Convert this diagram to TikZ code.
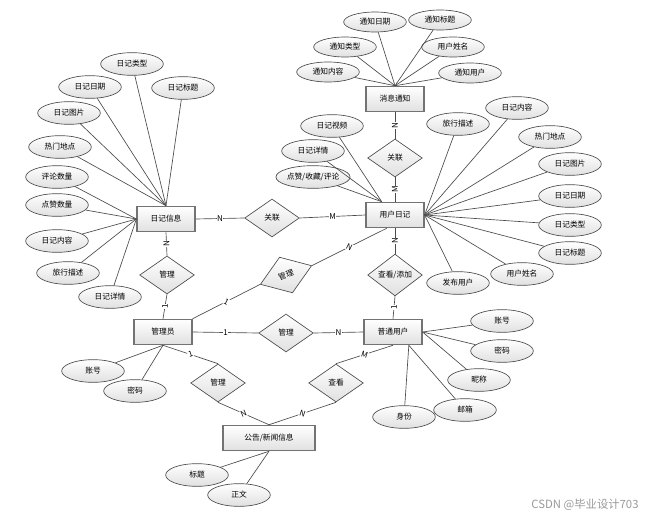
\documentclass[tikz,border=0pt]{standalone}
\usepackage{fontspec}
\newfontfamily\cjk{Noto Sans CJK SC}
\usetikzlibrary{shapes.geometric}

\tikzset{
  entity/.style={draw=black!55, line width=0.9pt, top color=white, bottom color=black!12, minimum width=43.5pt, minimum height=19pt, inner sep=1pt, font=\cjk\fontsize{5.8}{7}\selectfont},
  attr/.style={ellipse, draw=black!70, line width=0.5pt, top color=white, bottom color=black!12, minimum width=47pt, minimum height=17pt, inner sep=0pt, font=\cjk\fontsize{5.8}{7}\selectfont},
  rel/.style={diamond, draw=black!70, line width=0.5pt, top color=white, bottom color=black!12, minimum width=41pt, minimum height=28.5pt, inner sep=0pt, font=\cjk\fontsize{5.8}{7}\selectfont},
  conn/.style={draw=black!70, line width=0.5pt},
  card/.style={fill=white, inner sep=0.4pt, font=\cjk\fontsize{6}{6}\selectfont, text=black},
}

\begin{document}
\begin{tikzpicture}[x=0.75pt,y=0.75pt,yscale=-1,xscale=1]
\useasboundingbox (0,0) rectangle (648,517);

%Shape: Rectangle
\node [entity] (xxtz) at (395,99) {消息通知};
\node [entity] (yhrj) at (395,215) {用户日记};
\node [entity] (rjxx) at (166,219) {日记信息};
\node [entity] (gly) at (163,332) {管理员};
\node [entity] (ptyh) at (393,332) {普通用户};
\node [entity, minimum width=69pt] (gg) at (269,438) {公告/新闻信息};

%Shape: Diamond
\node [rel] (glA) at (395,158) {关联};
\node [rel] (glB) at (272,218) {关联};
\node [rel] (glC) at (167,275) {管理};
\node [rel, rotate=20] (glD) at (286,275) {管理};
\node [rel] (glE) at (286,333) {管理};
\node [rel] (ckadd) at (395,275) {查看/添加};
\node [rel] (glF) at (218,383) {管理};
\node [rel] (ck) at (336,383) {查看};

%Shape: Ellipse (消息通知)
\node [attr, minimum height=15pt] (tzrq) at (375,22) {通知日期};
\node [attr, minimum height=15pt] (tzbt) at (440,20) {通知标题};
\node [attr, minimum height=15pt] (tzlx) at (345,47) {通知类型};
\node [attr, minimum height=15pt] (tzxm) at (453,47) {用户姓名};
\node [attr, minimum height=15pt] (tznr) at (328,72) {通知内容};
\node [attr, minimum height=15pt] (tzyh) at (470,73) {通知用户};

%Shape: Ellipse (用户日记)
\node [attr] (ysp) at (332,126) {日记视频};
\node [attr] (yxq) at (313,151) {日记详情};
\node [attr] (ydz) at (313,177) {点赞/收藏/评论};
\node [attr] (yms) at (458,124) {旅行描述};
\node [attr] (ynr) at (517,108) {日记内容};
\node [attr] (ydd) at (550,137) {热门地点};
\node [attr] (ytp) at (570,164) {日记图片};
\node [attr] (yrq) at (570,196) {日记日期};
\node [attr] (ylx) at (570,225) {日记类型};
\node [attr] (ybt) at (570,253) {日记标题};
\node [attr] (yxm) at (522,274) {用户姓名};
\node [attr] (yfb) at (458,283) {发布用户};

%Shape: Ellipse (日记信息)
\node [attr] (rlx) at (132,64) {日记类型};
\node [attr] (rrq) at (90,87) {日记日期};
\node [attr] (rbt) at (183,88) {日记标题};
\node [attr] (rtp) at (69,113) {日记图片};
\node [attr] (rdd) at (60,147) {热门地点};
\node [attr] (rpl) at (57,177) {评论数量};
\node [attr] (rdz) at (57,205) {点赞数量};
\node [attr] (rnr) at (57,241) {日记内容};
\node [attr] (rms) at (68,273) {旅行描述};
\node [attr] (rxq) at (110,297) {日记详情};

%Shape: Ellipse (管理员, 普通用户, 公告)
\node [attr] (gzh) at (93,371) {账号};
\node [attr] (gmm) at (135,391) {密码};
\node [attr] (pzh) at (502,321) {账号};
\node [attr] (pmm) at (502,351) {密码};
\node [attr] (pnc) at (479,380) {昵称};
\node [attr] (pyx) at (465,410) {邮箱};
\node [attr] (psf) at (404,417) {身份};
\node [attr] (gbt) at (197,475) {标题};
\node [attr] (gzw) at (239,495) {正文};

%Straight Lines (attributes)
\draw [conn] (tzrq) -- (xxtz.north);
\draw [conn] (tzbt) -- (xxtz.north);
\draw [conn] (tzlx) -- (xxtz.north);
\draw [conn] (tzxm) -- (xxtz.north);
\draw [conn] (tznr) -- (xxtz.north);
\draw [conn] (tzyh) -- (xxtz.north);

\draw [conn] (ysp) -- (yhrj.135);
\draw [conn] (yxq) -- (yhrj.135);
\draw [conn] (ydz) -- (yhrj.135);
\draw [conn] (yms) -- (yhrj.east);
\draw [conn] (ynr) -- (yhrj.east);
\draw [conn] (ydd) -- (yhrj.east);
\draw [conn] (ytp) -- (yhrj.east);
\draw [conn] (yrq) -- (yhrj.east);
\draw [conn] (ylx) -- (yhrj.east);
\draw [conn] (ybt) -- (yhrj.east);
\draw [conn] (yxm) -- (yhrj.east);
\draw [conn] (yfb) -- (yhrj.east);

\draw [conn] (rlx) -- (rjxx.north);
\draw [conn] (rrq) -- (rjxx.north);
\draw [conn] (rbt) -- (rjxx.north);
\draw [conn] (rtp) -- (rjxx.north);
\draw [conn] (rdd) -- (rjxx.north);
\draw [conn] (rpl) -- (rjxx.west);
\draw [conn] (rdz) -- (rjxx.west);
\draw [conn] (rnr) -- (rjxx.west);
\draw [conn] (rms) -- (rjxx.west);
\draw [conn] (rxq) -- (rjxx.west);

\draw [conn] (gzh) -- (gly.south);
\draw [conn] (gmm) -- (gly.south);
\draw [conn] (pzh) -- (ptyh.east);
\draw [conn] (pmm) -- (ptyh.east);
\draw [conn] (pnc) -- (ptyh.east);
\draw [conn] (pyx) -- (ptyh.-40);
\draw [conn] (psf) -- (ptyh.-40);
\draw [conn] (gbt) -- (gg.south);
\draw [conn] (gzw) -- (gg.south);

%Straight Lines (relations)
\draw [conn] (xxtz.south) -- node [card, rotate=90] {N} (glA.north);
\draw [conn] (glA.south) -- node [card, rotate=90] {M} (yhrj.north);
\draw [conn] (rjxx.east) -- node [card] {N} (glB.west);
\draw [conn] (glB.east) -- node [card] {M} (yhrj.west);
\draw [conn] (rjxx.south) -- node [card, rotate=90] {N} (glC.north);
\draw [conn] (glC.south) -- node [card, rotate=90] {1} (gly.north);
\draw [conn] (gly.north east) -- node [card, sloped] {1} (glD.west);
\draw [conn] (glD.east) -- node [card, sloped] {N} (yhrj.238);
\draw [conn] (gly.east) -- node [card] {1} (glE.west);
\draw [conn] (glE.east) -- node [card] {N} (ptyh.west);
\draw [conn] (yhrj.south) -- node [card, rotate=90] {N} (ckadd.north);
\draw [conn] (ckadd.south) -- node [card, rotate=90] {1} (ptyh.north);
\draw [conn] (gly.south) -- node [card, sloped] {1} (glF.north);
\draw [conn] (glF.south) -- node [card, sloped] {N} (gg.north);
\draw [conn] (ptyh.south) -- node [card, sloped] {M} (ck.north);
\draw [conn] (ck.south) -- node [card, sloped] {N} (gg.north);

% Text Node
\node [font=\cjk\fontsize{8.5}{10}\selectfont, text=black!40] (wm) at (585,505) {CSDN @毕业设计703};

\end{tikzpicture}
\end{document}
